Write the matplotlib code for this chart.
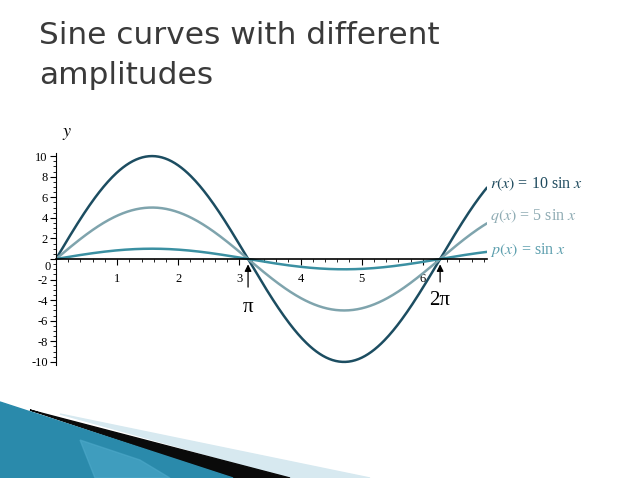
import numpy as np
import matplotlib
matplotlib.use('Agg')
import matplotlib.pyplot as plt
from matplotlib.patches import Polygon

# chart data
names = ['r', 'q', 'p']
amplitudes = [10, 5, 1]
label_texts = [r'$r(x)$ = 10 sin $x$', r'$q(x)$ = 5 sin $x$', r'$p(x)$ = sin $x$']
line_colors = ['#1c4d61', '#7fa4ad', '#3b90a2']
text_colors = ['#1f4b5e', '#8eabb3', '#5d9fae']
label_y = [7.3, 4.2, 0.9]
x_max = 7.05
y_ticks = [-10, -8, -6, -4, -2, 0, 2, 4, 6, 8, 10]
x_ticks = [1, 2, 3, 4, 5, 6]

plt.rcParams['mathtext.fontset'] = 'stix'

fig = plt.figure(figsize=(6.38, 4.78), dpi=100)

# title of the slide
fig.text(39 / 638, 1 - 21 / 478, 'Sine curves with different\namplitudes',
         fontsize=22.5, color='#3a3a3a', family='DejaVu Sans',
         va='top', ha='left', linespacing=1.5)

ax = fig.add_axes([56 / 638, (478 - 365) / 478, (487 - 56) / 638, 212 / 478])
x = np.linspace(0, x_max, 400)
for amp, col in zip(amplitudes, line_colors):
    ax.plot(x, amp * np.sin(x), color=col, lw=1.8, solid_capstyle='round')

ax.set_xlim(0, x_max)
ax.set_ylim(-10.3, 10.3)
ax.spines['left'].set_position(('data', 0))
ax.spines['bottom'].set_position(('data', 0))
ax.spines['top'].set_visible(False)
ax.spines['right'].set_visible(False)
ax.spines['bottom'].set_linewidth(1.2)
ax.spines['left'].set_linewidth(0.8)
ax.patch.set_alpha(0)

ax.set_xticks(x_ticks)
ax.set_xticks(np.arange(0.2, x_max, 0.2), minor=True)
ax.set_yticks(y_ticks)
ax.set_yticks(np.arange(-10, 10.01, 0.5), minor=True)
ax.set_yticklabels([str(t) if t != 0 else '' for t in y_ticks])
ax.tick_params(axis='both', which='major', length=4, width=0.8, labelsize=9,
               direction='out', pad=2)
ax.tick_params(axis='both', which='minor', length=2, width=0.6, direction='out')
ax.tick_params(axis='x', pad=6)
for lab in ax.get_xticklabels() + ax.get_yticklabels():
    lab.set_family('Liberation Serif')
ax.text(-0.08, -0.8, '0', ha='right', va='center', fontsize=9,
        family='Liberation Serif')
ax.text(0.18, 12.2, '$y$', fontsize=13, ha='center', va='center')

# arrows at pi and 2 pi
ax.annotate('', xy=(np.pi, -0.25), xytext=(np.pi, -3.0),
            arrowprops=dict(arrowstyle='-|>', color='black', lw=0.9,
                            mutation_scale=10))
ax.text(np.pi, -4.7, 'π', fontsize=15, ha='center', va='center',
        family='Liberation Serif')
ax.annotate('', xy=(2 * np.pi, -0.25), xytext=(2 * np.pi, -2.5),
            arrowprops=dict(arrowstyle='-|>', color='black', lw=0.9,
                            mutation_scale=10))
ax.text(2 * np.pi, -4.0, '2π', fontsize=15, ha='center', va='center',
        family='Liberation Serif')

# curve labels
for txt, col, yy in zip(label_texts, text_colors, label_y):
    ax.text(x_max + 0.05, yy, txt, color=col, fontsize=11.5, ha='left',
            va='center', family='Liberation Serif', clip_on=False)

# decorative swoosh in the lower left corner
def px(points):
    return [(a / 638, 1 - b / 478) for a, b in points]

fig.patches.append(Polygon(px([(60, 414), (370, 478), (290, 478)]),
                           closed=True, transform=fig.transFigure,
                           color='#d7e9f0', zorder=0))
fig.patches.append(Polygon(px([(30, 410), (45, 414), (290, 478), (233, 478)]),
                           closed=True, transform=fig.transFigure,
                           color='#0a0a0a', zorder=1))
fig.patches.append(Polygon(px([(0, 402), (43, 416), (233, 478), (0, 478)]),
                           closed=True, transform=fig.transFigure,
                           color='#2a8aab', zorder=2))
fig.patches.append(Polygon(px([(80, 440), (140, 460), (170, 478), (95, 478)]),
                           closed=True, transform=fig.transFigure,
                           color='#4eaacb', alpha=0.6, zorder=3))

fig.savefig('out.png', dpi=100)
